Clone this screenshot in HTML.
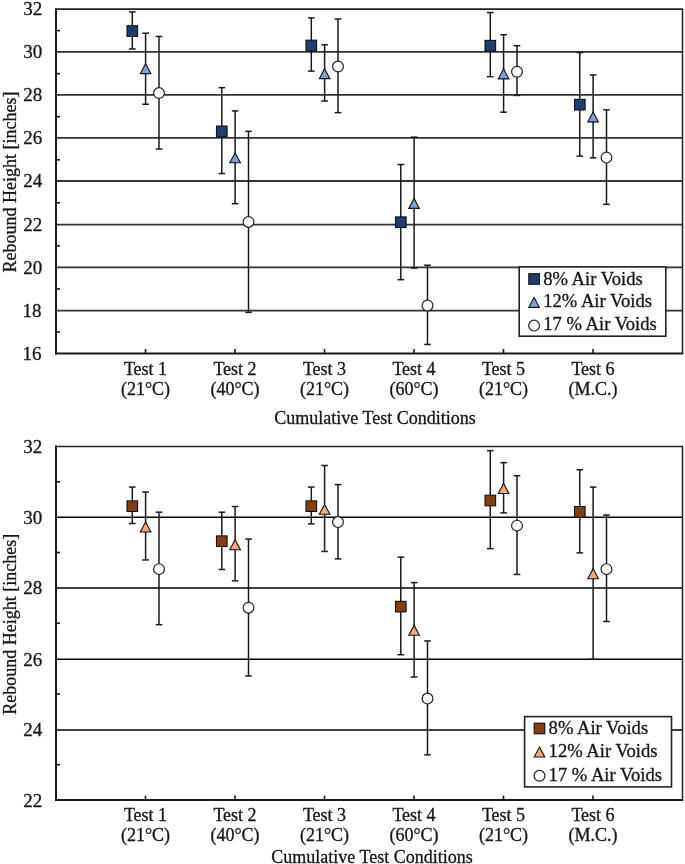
<!DOCTYPE html>
<html><head><meta charset="utf-8"><style>
html,body{margin:0;padding:0;background:#fff;}
svg{display:block;}
.t,.tk,.ti,.yt,.lg{font-family:"Liberation Serif","Times New Roman",serif;fill:#161616;stroke:#161616;stroke-width:0.3px;}
.t{font-size:18.0px;}
.tk{font-size:19.0px;}
.ti{font-size:18.0px;}
.yt{font-size:18.0px;}
.lg{font-size:18.6px;}
</style></head><body>
<svg width="685" height="864" viewBox="0 0 685 864">
<rect width="685" height="864" fill="#fff"/>
<line x1="56.0" x2="682.5" y1="310.60" y2="310.60" stroke="#333333" stroke-width="1.8"/>
<line x1="56.0" x2="682.5" y1="267.40" y2="267.40" stroke="#333333" stroke-width="1.8"/>
<line x1="56.0" x2="682.5" y1="224.70" y2="224.70" stroke="#333333" stroke-width="1.8"/>
<line x1="56.0" x2="682.5" y1="181.00" y2="181.00" stroke="#333333" stroke-width="1.8"/>
<line x1="56.0" x2="682.5" y1="137.90" y2="137.90" stroke="#333333" stroke-width="1.8"/>
<line x1="56.0" x2="682.5" y1="94.90" y2="94.90" stroke="#333333" stroke-width="1.8"/>
<line x1="56.0" x2="682.5" y1="51.90" y2="51.90" stroke="#333333" stroke-width="1.8"/>
<line x1="56.0" x2="683.1" y1="9.10" y2="9.10" stroke="#222" stroke-width="1.8"/>
<line x1="682.5" x2="682.5" y1="9.10" y2="353.50" stroke="#222" stroke-width="1.5"/>
<line x1="56.0" x2="56.0" y1="8.20" y2="354.50" stroke="#1a1a1a" stroke-width="2.0"/>
<line x1="55.0" x2="683.25" y1="353.50" y2="353.50" stroke="#1a1a1a" stroke-width="2.0"/>
<line x1="56.0" x2="60.0" y1="331.98" y2="331.98" stroke="#1a1a1a" stroke-width="1.6"/>
<line x1="56.0" x2="60.0" y1="288.93" y2="288.93" stroke="#1a1a1a" stroke-width="1.6"/>
<line x1="56.0" x2="60.0" y1="245.87" y2="245.87" stroke="#1a1a1a" stroke-width="1.6"/>
<line x1="56.0" x2="60.0" y1="202.82" y2="202.82" stroke="#1a1a1a" stroke-width="1.6"/>
<line x1="56.0" x2="60.0" y1="159.77" y2="159.77" stroke="#1a1a1a" stroke-width="1.6"/>
<line x1="56.0" x2="60.0" y1="116.72" y2="116.72" stroke="#1a1a1a" stroke-width="1.6"/>
<line x1="56.0" x2="60.0" y1="73.67" y2="73.67" stroke="#1a1a1a" stroke-width="1.6"/>
<line x1="56.0" x2="60.0" y1="30.62" y2="30.62" stroke="#1a1a1a" stroke-width="1.6"/>
<line x1="145.50" x2="145.50" y1="349.00" y2="353.50" stroke="#1a1a1a" stroke-width="1.6"/>
<line x1="235.00" x2="235.00" y1="349.00" y2="353.50" stroke="#1a1a1a" stroke-width="1.6"/>
<line x1="324.50" x2="324.50" y1="349.00" y2="353.50" stroke="#1a1a1a" stroke-width="1.6"/>
<line x1="414.00" x2="414.00" y1="349.00" y2="353.50" stroke="#1a1a1a" stroke-width="1.6"/>
<line x1="503.50" x2="503.50" y1="349.00" y2="353.50" stroke="#1a1a1a" stroke-width="1.6"/>
<line x1="593.00" x2="593.00" y1="349.00" y2="353.50" stroke="#1a1a1a" stroke-width="1.6"/>
<text x="41.50" y="359.80" text-anchor="end" class="tk">16</text>
<text x="41.50" y="316.90" text-anchor="end" class="tk">18</text>
<text x="42.30" y="273.70" text-anchor="end" class="tk">20</text>
<text x="42.30" y="231.00" text-anchor="end" class="tk">22</text>
<text x="42.30" y="187.30" text-anchor="end" class="tk">24</text>
<text x="42.30" y="144.20" text-anchor="end" class="tk">26</text>
<text x="42.30" y="101.20" text-anchor="end" class="tk">28</text>
<text x="42.30" y="58.20" text-anchor="end" class="tk">30</text>
<text x="42.30" y="15.40" text-anchor="end" class="tk">32</text>
<text x="145.50" y="374.5" text-anchor="middle" class="t">Test 1</text>
<text x="145.50" y="394.5" text-anchor="middle" class="t">(21°C)</text>
<text x="235.00" y="374.5" text-anchor="middle" class="t">Test 2</text>
<text x="235.00" y="394.5" text-anchor="middle" class="t">(40°C)</text>
<text x="324.50" y="374.5" text-anchor="middle" class="t">Test 3</text>
<text x="324.50" y="394.5" text-anchor="middle" class="t">(21°C)</text>
<text x="414.00" y="374.5" text-anchor="middle" class="t">Test 4</text>
<text x="414.00" y="394.5" text-anchor="middle" class="t">(60°C)</text>
<text x="503.50" y="374.5" text-anchor="middle" class="t">Test 5</text>
<text x="503.50" y="394.5" text-anchor="middle" class="t">(21°C)</text>
<text x="593.00" y="374.5" text-anchor="middle" class="t">Test 6</text>
<text x="593.00" y="394.5" text-anchor="middle" class="t">(M.C.)</text>
<text x="375.00" y="423.5" text-anchor="middle" class="ti">Cumulative Test Conditions</text>
<text transform="translate(16.3 181.9) rotate(-90)" text-anchor="middle" class="yt">Rebound Height [inches]</text>
<line x1="132.30" x2="132.30" y1="11.90" y2="48.92" stroke="#1a1a1a" stroke-width="1.5"/>
<line x1="129.00" x2="135.60" y1="11.90" y2="11.90" stroke="#1a1a1a" stroke-width="1.5"/>
<line x1="129.00" x2="135.60" y1="48.92" y2="48.92" stroke="#1a1a1a" stroke-width="1.5"/>
<line x1="221.80" x2="221.80" y1="87.67" y2="173.55" stroke="#1a1a1a" stroke-width="1.5"/>
<line x1="218.50" x2="225.10" y1="87.67" y2="87.67" stroke="#1a1a1a" stroke-width="1.5"/>
<line x1="218.50" x2="225.10" y1="173.55" y2="173.55" stroke="#1a1a1a" stroke-width="1.5"/>
<line x1="311.30" x2="311.30" y1="17.93" y2="71.09" stroke="#1a1a1a" stroke-width="1.5"/>
<line x1="308.00" x2="314.60" y1="17.93" y2="17.93" stroke="#1a1a1a" stroke-width="1.5"/>
<line x1="308.00" x2="314.60" y1="71.09" y2="71.09" stroke="#1a1a1a" stroke-width="1.5"/>
<line x1="400.80" x2="400.80" y1="164.51" y2="279.67" stroke="#1a1a1a" stroke-width="1.5"/>
<line x1="397.50" x2="404.10" y1="164.51" y2="164.51" stroke="#1a1a1a" stroke-width="1.5"/>
<line x1="397.50" x2="404.10" y1="279.67" y2="279.67" stroke="#1a1a1a" stroke-width="1.5"/>
<line x1="490.30" x2="490.30" y1="12.54" y2="76.69" stroke="#1a1a1a" stroke-width="1.5"/>
<line x1="487.00" x2="493.60" y1="12.54" y2="12.54" stroke="#1a1a1a" stroke-width="1.5"/>
<line x1="487.00" x2="493.60" y1="76.69" y2="76.69" stroke="#1a1a1a" stroke-width="1.5"/>
<line x1="579.80" x2="579.80" y1="52.58" y2="156.12" stroke="#1a1a1a" stroke-width="1.5"/>
<line x1="576.50" x2="583.10" y1="52.58" y2="52.58" stroke="#1a1a1a" stroke-width="1.5"/>
<line x1="576.50" x2="583.10" y1="156.12" y2="156.12" stroke="#1a1a1a" stroke-width="1.5"/>
<line x1="145.60" x2="145.60" y1="33.21" y2="104.24" stroke="#1a1a1a" stroke-width="1.5"/>
<line x1="142.30" x2="148.90" y1="33.21" y2="33.21" stroke="#1a1a1a" stroke-width="1.5"/>
<line x1="142.30" x2="148.90" y1="104.24" y2="104.24" stroke="#1a1a1a" stroke-width="1.5"/>
<line x1="235.10" x2="235.10" y1="110.91" y2="203.69" stroke="#1a1a1a" stroke-width="1.5"/>
<line x1="231.80" x2="238.40" y1="110.91" y2="110.91" stroke="#1a1a1a" stroke-width="1.5"/>
<line x1="231.80" x2="238.40" y1="203.69" y2="203.69" stroke="#1a1a1a" stroke-width="1.5"/>
<line x1="324.60" x2="324.60" y1="44.83" y2="101.01" stroke="#1a1a1a" stroke-width="1.5"/>
<line x1="321.30" x2="327.90" y1="44.83" y2="44.83" stroke="#1a1a1a" stroke-width="1.5"/>
<line x1="321.30" x2="327.90" y1="101.01" y2="101.01" stroke="#1a1a1a" stroke-width="1.5"/>
<line x1="414.10" x2="414.10" y1="137.17" y2="268.05" stroke="#1a1a1a" stroke-width="1.5"/>
<line x1="410.80" x2="417.40" y1="137.17" y2="137.17" stroke="#1a1a1a" stroke-width="1.5"/>
<line x1="410.80" x2="417.40" y1="268.05" y2="268.05" stroke="#1a1a1a" stroke-width="1.5"/>
<line x1="503.60" x2="503.60" y1="34.71" y2="112.20" stroke="#1a1a1a" stroke-width="1.5"/>
<line x1="500.30" x2="506.90" y1="34.71" y2="34.71" stroke="#1a1a1a" stroke-width="1.5"/>
<line x1="500.30" x2="506.90" y1="112.20" y2="112.20" stroke="#1a1a1a" stroke-width="1.5"/>
<line x1="593.10" x2="593.10" y1="74.97" y2="157.84" stroke="#1a1a1a" stroke-width="1.5"/>
<line x1="589.80" x2="596.40" y1="74.97" y2="74.97" stroke="#1a1a1a" stroke-width="1.5"/>
<line x1="589.80" x2="596.40" y1="157.84" y2="157.84" stroke="#1a1a1a" stroke-width="1.5"/>
<line x1="159.00" x2="159.00" y1="36.44" y2="149.01" stroke="#1a1a1a" stroke-width="1.5"/>
<line x1="155.70" x2="162.30" y1="36.44" y2="36.44" stroke="#1a1a1a" stroke-width="1.5"/>
<line x1="155.70" x2="162.30" y1="149.01" y2="149.01" stroke="#1a1a1a" stroke-width="1.5"/>
<line x1="248.50" x2="248.50" y1="131.36" y2="312.39" stroke="#1a1a1a" stroke-width="1.5"/>
<line x1="245.20" x2="251.80" y1="131.36" y2="131.36" stroke="#1a1a1a" stroke-width="1.5"/>
<line x1="245.20" x2="251.80" y1="312.39" y2="312.39" stroke="#1a1a1a" stroke-width="1.5"/>
<line x1="338.00" x2="338.00" y1="19.00" y2="112.64" stroke="#1a1a1a" stroke-width="1.5"/>
<line x1="334.70" x2="341.30" y1="19.00" y2="19.00" stroke="#1a1a1a" stroke-width="1.5"/>
<line x1="334.70" x2="341.30" y1="112.64" y2="112.64" stroke="#1a1a1a" stroke-width="1.5"/>
<line x1="427.50" x2="427.50" y1="265.25" y2="344.46" stroke="#1a1a1a" stroke-width="1.5"/>
<line x1="424.20" x2="430.80" y1="265.25" y2="265.25" stroke="#1a1a1a" stroke-width="1.5"/>
<line x1="424.20" x2="430.80" y1="344.46" y2="344.46" stroke="#1a1a1a" stroke-width="1.5"/>
<line x1="517.00" x2="517.00" y1="45.69" y2="95.42" stroke="#1a1a1a" stroke-width="1.5"/>
<line x1="513.70" x2="520.30" y1="45.69" y2="45.69" stroke="#1a1a1a" stroke-width="1.5"/>
<line x1="513.70" x2="520.30" y1="95.42" y2="95.42" stroke="#1a1a1a" stroke-width="1.5"/>
<line x1="606.50" x2="606.50" y1="109.84" y2="204.33" stroke="#1a1a1a" stroke-width="1.5"/>
<line x1="603.20" x2="609.80" y1="109.84" y2="109.84" stroke="#1a1a1a" stroke-width="1.5"/>
<line x1="603.20" x2="609.80" y1="204.33" y2="204.33" stroke="#1a1a1a" stroke-width="1.5"/>
<rect x="127.00" y="25.76" width="10.6" height="10.6" fill="#1f3d6e" stroke="#111" stroke-width="1.1"/>
<rect x="216.50" y="126.06" width="10.6" height="10.6" fill="#1f3d6e" stroke="#111" stroke-width="1.1"/>
<rect x="306.00" y="40.18" width="10.6" height="10.6" fill="#1f3d6e" stroke="#111" stroke-width="1.1"/>
<rect x="395.50" y="216.90" width="10.6" height="10.6" fill="#1f3d6e" stroke="#111" stroke-width="1.1"/>
<rect x="485.00" y="40.39" width="10.6" height="10.6" fill="#1f3d6e" stroke="#111" stroke-width="1.1"/>
<rect x="574.50" y="99.37" width="10.6" height="10.6" fill="#1f3d6e" stroke="#111" stroke-width="1.1"/>
<polygon points="145.60,63.77 150.90,73.67 140.30,73.67" fill="#7fa0d9" stroke="#111" stroke-width="1.1" stroke-linejoin="miter"/>
<polygon points="235.10,152.89 240.40,162.79 229.80,162.79" fill="#7fa0d9" stroke="#111" stroke-width="1.1" stroke-linejoin="miter"/>
<polygon points="324.60,68.72 329.90,78.62 319.30,78.62" fill="#7fa0d9" stroke="#111" stroke-width="1.1" stroke-linejoin="miter"/>
<polygon points="414.10,198.52 419.40,208.42 408.80,208.42" fill="#7fa0d9" stroke="#111" stroke-width="1.1" stroke-linejoin="miter"/>
<polygon points="503.60,68.94 508.90,78.84 498.30,78.84" fill="#7fa0d9" stroke="#111" stroke-width="1.1" stroke-linejoin="miter"/>
<polygon points="593.10,111.99 598.40,121.89 587.80,121.89" fill="#7fa0d9" stroke="#111" stroke-width="1.1" stroke-linejoin="miter"/>
<circle cx="159.00" cy="93.05" r="5.4" fill="#fff" stroke="#222" stroke-width="1.2"/>
<circle cx="248.50" cy="221.98" r="5.4" fill="#fff" stroke="#222" stroke-width="1.2"/>
<circle cx="338.00" cy="66.57" r="5.4" fill="#fff" stroke="#222" stroke-width="1.2"/>
<circle cx="427.50" cy="305.50" r="5.4" fill="#fff" stroke="#222" stroke-width="1.2"/>
<circle cx="517.00" cy="71.74" r="5.4" fill="#fff" stroke="#222" stroke-width="1.2"/>
<circle cx="606.50" cy="157.62" r="5.4" fill="#fff" stroke="#222" stroke-width="1.2"/>
<rect x="519.20" y="266.90" width="146.60" height="69.30" fill="#fff" stroke="#222" stroke-width="1.6"/>
<rect x="528.80" y="273.70" width="10.6" height="10.6" fill="#1f3d6e" stroke="#111" stroke-width="1.1"/>
<text x="543.20" y="284.80" class="lg">8% Air Voids</text>
<polygon points="534.10,297.45 539.40,307.35 528.80,307.35" fill="#7fa0d9" stroke="#111" stroke-width="1.1" stroke-linejoin="miter"/>
<text x="543.20" y="307.30" class="lg">12% Air Voids</text>
<circle cx="534.10" cy="325.60" r="5.4" fill="#fff" stroke="#222" stroke-width="1.2"/>
<text x="543.20" y="330.20" class="lg">17 % Air Voids</text>
<line x1="56.0" x2="682.5" y1="730.10" y2="730.10" stroke="#000000" stroke-width="1.5"/>
<line x1="56.0" x2="682.5" y1="659.20" y2="659.20" stroke="#000000" stroke-width="1.5"/>
<line x1="56.0" x2="682.5" y1="587.90" y2="587.90" stroke="#000000" stroke-width="1.5"/>
<line x1="56.0" x2="682.5" y1="517.30" y2="517.30" stroke="#000000" stroke-width="1.5"/>
<line x1="56.0" x2="683.1" y1="446.40" y2="446.40" stroke="#222" stroke-width="1.5"/>
<line x1="682.5" x2="682.5" y1="446.40" y2="800.10" stroke="#222" stroke-width="1.5"/>
<line x1="56.0" x2="56.0" y1="445.50" y2="801.10" stroke="#1a1a1a" stroke-width="2.0"/>
<line x1="55.0" x2="683.25" y1="800.10" y2="800.10" stroke="#1a1a1a" stroke-width="2.0"/>
<line x1="56.0" x2="60.0" y1="764.73" y2="764.73" stroke="#1a1a1a" stroke-width="1.6"/>
<line x1="56.0" x2="60.0" y1="693.99" y2="693.99" stroke="#1a1a1a" stroke-width="1.6"/>
<line x1="56.0" x2="60.0" y1="623.25" y2="623.25" stroke="#1a1a1a" stroke-width="1.6"/>
<line x1="56.0" x2="60.0" y1="552.51" y2="552.51" stroke="#1a1a1a" stroke-width="1.6"/>
<line x1="56.0" x2="60.0" y1="481.77" y2="481.77" stroke="#1a1a1a" stroke-width="1.6"/>
<line x1="145.50" x2="145.50" y1="795.60" y2="800.10" stroke="#1a1a1a" stroke-width="1.6"/>
<line x1="235.00" x2="235.00" y1="795.60" y2="800.10" stroke="#1a1a1a" stroke-width="1.6"/>
<line x1="324.50" x2="324.50" y1="795.60" y2="800.10" stroke="#1a1a1a" stroke-width="1.6"/>
<line x1="414.00" x2="414.00" y1="795.60" y2="800.10" stroke="#1a1a1a" stroke-width="1.6"/>
<line x1="503.50" x2="503.50" y1="795.60" y2="800.10" stroke="#1a1a1a" stroke-width="1.6"/>
<line x1="593.00" x2="593.00" y1="795.60" y2="800.10" stroke="#1a1a1a" stroke-width="1.6"/>
<text x="42.30" y="806.50" text-anchor="end" class="tk">22</text>
<text x="42.30" y="736.40" text-anchor="end" class="tk">24</text>
<text x="42.30" y="665.50" text-anchor="end" class="tk">26</text>
<text x="42.30" y="594.20" text-anchor="end" class="tk">28</text>
<text x="42.30" y="523.60" text-anchor="end" class="tk">30</text>
<text x="42.30" y="452.70" text-anchor="end" class="tk">32</text>
<text x="145.50" y="820.7" text-anchor="middle" class="t">Test 1</text>
<text x="145.50" y="841.1" text-anchor="middle" class="t">(21°C)</text>
<text x="235.00" y="820.7" text-anchor="middle" class="t">Test 2</text>
<text x="235.00" y="841.1" text-anchor="middle" class="t">(40°C)</text>
<text x="324.50" y="820.7" text-anchor="middle" class="t">Test 3</text>
<text x="324.50" y="841.1" text-anchor="middle" class="t">(21°C)</text>
<text x="414.00" y="820.7" text-anchor="middle" class="t">Test 4</text>
<text x="414.00" y="841.1" text-anchor="middle" class="t">(60°C)</text>
<text x="503.50" y="820.7" text-anchor="middle" class="t">Test 5</text>
<text x="503.50" y="841.1" text-anchor="middle" class="t">(21°C)</text>
<text x="593.00" y="820.7" text-anchor="middle" class="t">Test 6</text>
<text x="593.00" y="841.1" text-anchor="middle" class="t">(M.C.)</text>
<text x="372.00" y="862.6" text-anchor="middle" class="ti">Cumulative Test Conditions</text>
<text transform="translate(16.3 624.3) rotate(-90)" text-anchor="middle" class="yt">Rebound Height [inches]</text>
<line x1="132.30" x2="132.30" y1="487.08" y2="523.51" stroke="#1a1a1a" stroke-width="1.5"/>
<line x1="129.00" x2="135.60" y1="487.08" y2="487.08" stroke="#1a1a1a" stroke-width="1.5"/>
<line x1="129.00" x2="135.60" y1="523.51" y2="523.51" stroke="#1a1a1a" stroke-width="1.5"/>
<line x1="221.80" x2="221.80" y1="512.19" y2="569.49" stroke="#1a1a1a" stroke-width="1.5"/>
<line x1="218.50" x2="225.10" y1="512.19" y2="512.19" stroke="#1a1a1a" stroke-width="1.5"/>
<line x1="218.50" x2="225.10" y1="569.49" y2="569.49" stroke="#1a1a1a" stroke-width="1.5"/>
<line x1="311.30" x2="311.30" y1="487.08" y2="523.86" stroke="#1a1a1a" stroke-width="1.5"/>
<line x1="308.00" x2="314.60" y1="487.08" y2="487.08" stroke="#1a1a1a" stroke-width="1.5"/>
<line x1="308.00" x2="314.60" y1="523.86" y2="523.86" stroke="#1a1a1a" stroke-width="1.5"/>
<line x1="400.80" x2="400.80" y1="557.11" y2="654.73" stroke="#1a1a1a" stroke-width="1.5"/>
<line x1="397.50" x2="404.10" y1="557.11" y2="557.11" stroke="#1a1a1a" stroke-width="1.5"/>
<line x1="397.50" x2="404.10" y1="654.73" y2="654.73" stroke="#1a1a1a" stroke-width="1.5"/>
<line x1="490.30" x2="490.30" y1="450.64" y2="548.62" stroke="#1a1a1a" stroke-width="1.5"/>
<line x1="487.00" x2="493.60" y1="450.64" y2="450.64" stroke="#1a1a1a" stroke-width="1.5"/>
<line x1="487.00" x2="493.60" y1="548.62" y2="548.62" stroke="#1a1a1a" stroke-width="1.5"/>
<line x1="579.80" x2="579.80" y1="469.74" y2="552.86" stroke="#1a1a1a" stroke-width="1.5"/>
<line x1="576.50" x2="583.10" y1="469.74" y2="469.74" stroke="#1a1a1a" stroke-width="1.5"/>
<line x1="576.50" x2="583.10" y1="552.86" y2="552.86" stroke="#1a1a1a" stroke-width="1.5"/>
<line x1="145.60" x2="145.60" y1="492.03" y2="559.94" stroke="#1a1a1a" stroke-width="1.5"/>
<line x1="142.30" x2="148.90" y1="492.03" y2="492.03" stroke="#1a1a1a" stroke-width="1.5"/>
<line x1="142.30" x2="148.90" y1="559.94" y2="559.94" stroke="#1a1a1a" stroke-width="1.5"/>
<line x1="235.10" x2="235.10" y1="506.53" y2="580.81" stroke="#1a1a1a" stroke-width="1.5"/>
<line x1="231.80" x2="238.40" y1="506.53" y2="506.53" stroke="#1a1a1a" stroke-width="1.5"/>
<line x1="231.80" x2="238.40" y1="580.81" y2="580.81" stroke="#1a1a1a" stroke-width="1.5"/>
<line x1="324.60" x2="324.60" y1="465.50" y2="551.45" stroke="#1a1a1a" stroke-width="1.5"/>
<line x1="321.30" x2="327.90" y1="465.50" y2="465.50" stroke="#1a1a1a" stroke-width="1.5"/>
<line x1="321.30" x2="327.90" y1="551.45" y2="551.45" stroke="#1a1a1a" stroke-width="1.5"/>
<line x1="414.10" x2="414.10" y1="582.57" y2="677.01" stroke="#1a1a1a" stroke-width="1.5"/>
<line x1="410.80" x2="417.40" y1="582.57" y2="582.57" stroke="#1a1a1a" stroke-width="1.5"/>
<line x1="410.80" x2="417.40" y1="677.01" y2="677.01" stroke="#1a1a1a" stroke-width="1.5"/>
<line x1="503.60" x2="503.60" y1="462.67" y2="512.90" stroke="#1a1a1a" stroke-width="1.5"/>
<line x1="500.30" x2="506.90" y1="462.67" y2="462.67" stroke="#1a1a1a" stroke-width="1.5"/>
<line x1="500.30" x2="506.90" y1="512.90" y2="512.90" stroke="#1a1a1a" stroke-width="1.5"/>
<line x1="593.10" x2="593.10" y1="487.08" y2="659.33" stroke="#1a1a1a" stroke-width="1.5"/>
<line x1="589.80" x2="596.40" y1="487.08" y2="487.08" stroke="#1a1a1a" stroke-width="1.5"/>
<line x1="589.80" x2="596.40" y1="659.33" y2="659.33" stroke="#1a1a1a" stroke-width="1.5"/>
<line x1="159.00" x2="159.00" y1="512.19" y2="624.66" stroke="#1a1a1a" stroke-width="1.5"/>
<line x1="155.70" x2="162.30" y1="512.19" y2="512.19" stroke="#1a1a1a" stroke-width="1.5"/>
<line x1="155.70" x2="162.30" y1="624.66" y2="624.66" stroke="#1a1a1a" stroke-width="1.5"/>
<line x1="248.50" x2="248.50" y1="539.07" y2="675.95" stroke="#1a1a1a" stroke-width="1.5"/>
<line x1="245.20" x2="251.80" y1="539.07" y2="539.07" stroke="#1a1a1a" stroke-width="1.5"/>
<line x1="245.20" x2="251.80" y1="675.95" y2="675.95" stroke="#1a1a1a" stroke-width="1.5"/>
<line x1="338.00" x2="338.00" y1="484.60" y2="558.88" stroke="#1a1a1a" stroke-width="1.5"/>
<line x1="334.70" x2="341.30" y1="484.60" y2="484.60" stroke="#1a1a1a" stroke-width="1.5"/>
<line x1="334.70" x2="341.30" y1="558.88" y2="558.88" stroke="#1a1a1a" stroke-width="1.5"/>
<line x1="427.50" x2="427.50" y1="640.93" y2="754.83" stroke="#1a1a1a" stroke-width="1.5"/>
<line x1="424.20" x2="430.80" y1="640.93" y2="640.93" stroke="#1a1a1a" stroke-width="1.5"/>
<line x1="424.20" x2="430.80" y1="754.83" y2="754.83" stroke="#1a1a1a" stroke-width="1.5"/>
<line x1="517.00" x2="517.00" y1="475.76" y2="574.44" stroke="#1a1a1a" stroke-width="1.5"/>
<line x1="513.70" x2="520.30" y1="475.76" y2="475.76" stroke="#1a1a1a" stroke-width="1.5"/>
<line x1="513.70" x2="520.30" y1="574.44" y2="574.44" stroke="#1a1a1a" stroke-width="1.5"/>
<line x1="606.50" x2="606.50" y1="515.02" y2="621.48" stroke="#1a1a1a" stroke-width="1.5"/>
<line x1="603.20" x2="609.80" y1="515.02" y2="515.02" stroke="#1a1a1a" stroke-width="1.5"/>
<line x1="603.20" x2="609.80" y1="621.48" y2="621.48" stroke="#1a1a1a" stroke-width="1.5"/>
<rect x="127.00" y="500.88" width="10.6" height="10.6" fill="#843f10" stroke="#111" stroke-width="1.1"/>
<rect x="216.50" y="535.89" width="10.6" height="10.6" fill="#843f10" stroke="#111" stroke-width="1.1"/>
<rect x="306.00" y="500.88" width="10.6" height="10.6" fill="#843f10" stroke="#111" stroke-width="1.1"/>
<rect x="395.50" y="601.33" width="10.6" height="10.6" fill="#843f10" stroke="#111" stroke-width="1.1"/>
<rect x="485.00" y="495.22" width="10.6" height="10.6" fill="#843f10" stroke="#111" stroke-width="1.1"/>
<rect x="574.50" y="506.53" width="10.6" height="10.6" fill="#843f10" stroke="#111" stroke-width="1.1"/>
<polygon points="145.60,522.09 150.90,531.99 140.30,531.99" fill="#f2aa7c" stroke="#111" stroke-width="1.1" stroke-linejoin="miter"/>
<polygon points="235.10,539.78 240.40,549.68 229.80,549.68" fill="#f2aa7c" stroke="#111" stroke-width="1.1" stroke-linejoin="miter"/>
<polygon points="324.60,504.41 329.90,514.31 319.30,514.31" fill="#f2aa7c" stroke="#111" stroke-width="1.1" stroke-linejoin="miter"/>
<polygon points="414.10,625.37 419.40,635.27 408.80,635.27" fill="#f2aa7c" stroke="#111" stroke-width="1.1" stroke-linejoin="miter"/>
<polygon points="503.60,483.54 508.90,493.44 498.30,493.44" fill="#f2aa7c" stroke="#111" stroke-width="1.1" stroke-linejoin="miter"/>
<polygon points="593.10,568.78 598.40,578.68 587.80,578.68" fill="#f2aa7c" stroke="#111" stroke-width="1.1" stroke-linejoin="miter"/>
<circle cx="159.00" cy="569.13" r="5.4" fill="#fff" stroke="#222" stroke-width="1.2"/>
<circle cx="248.50" cy="607.69" r="5.4" fill="#fff" stroke="#222" stroke-width="1.2"/>
<circle cx="338.00" cy="522.09" r="5.4" fill="#fff" stroke="#222" stroke-width="1.2"/>
<circle cx="427.50" cy="698.59" r="5.4" fill="#fff" stroke="#222" stroke-width="1.2"/>
<circle cx="517.00" cy="525.63" r="5.4" fill="#fff" stroke="#222" stroke-width="1.2"/>
<circle cx="606.50" cy="569.13" r="5.4" fill="#fff" stroke="#222" stroke-width="1.2"/>
<rect x="524.60" y="716.60" width="146.90" height="70.30" fill="#fff" stroke="#222" stroke-width="1.6"/>
<rect x="534.20" y="723.20" width="10.6" height="10.6" fill="#843f10" stroke="#111" stroke-width="1.1"/>
<text x="548.60" y="734.40" class="lg">8% Air Voids</text>
<polygon points="539.50,747.05 544.80,756.95 534.20,756.95" fill="#f2aa7c" stroke="#111" stroke-width="1.1" stroke-linejoin="miter"/>
<text x="548.60" y="757.30" class="lg">12% Air Voids</text>
<circle cx="539.50" cy="775.80" r="5.4" fill="#fff" stroke="#222" stroke-width="1.2"/>
<text x="548.60" y="780.80" class="lg">17 % Air Voids</text>
</svg>
</body></html>
